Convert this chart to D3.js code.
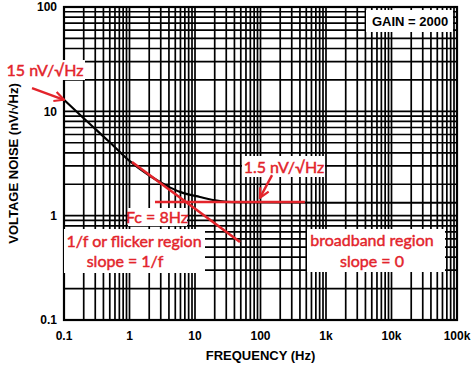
<!DOCTYPE html>
<html>
<head>
<meta charset="utf-8">
<script src="https://cdn.jsdelivr.net/npm/d3@7"></script>
<style>
  body { margin: 0; background: #fff; }
  svg { display: block; }
</style>
</head>
<body>
<div id="chart"></div>
<script>
// Noise curve (Hz, nV/√Hz)
const curveFreq  = [0.1, 0.175, 0.297, 0.504, 1.02, 2.06, 3.74, 5.9, 11.9, 24.1, 36.7, 100, 1000, 10000, 100000];
const curveNoise = [12.9, 9.27, 6.82, 5.03, 3.31, 2.40, 1.93, 1.69, 1.51, 1.38, 1.35, 1.34, 1.33, 1.33, 1.33];

// red guide lines
const flickerFreq  = [1.09, 48.6];
const flickerNoise = [3.27, 0.56];
const whiteFreq  = [2.45, 477];
const whiteNoise = [1.35, 1.35];

const xTicks = [0.1, 1, 10, 100, 1000, 10000, 100000];
const xTickLabels = ["0.1", "1", "10", "100", "1k", "10k", "100k"];
const yTicks = [0.1, 1, 10, 100];
const yTickLabels = ["0.1", "1", "10", "100"];

const config = {
    width: 474,
    height: 365,
    margin: { top: 7, right: 17, bottom: 45, left: 64 },
    red: "#e3242b",
    redFont: "Lato, 'Liberation Sans', sans-serif",
    boldFont: "'Liberation Sans', Arial, sans-serif"
};

const innerW = config.width - config.margin.left - config.margin.right;
const innerH = config.height - config.margin.top - config.margin.bottom;

const x = d3.scaleLog().domain([0.1, 100000]).range([config.margin.left, config.margin.left + innerW]);
const y = d3.scaleLog().domain([0.1, 100]).range([config.margin.top + innerH, config.margin.top]);

const svg = d3.select("#chart").append("svg")
    .attr("width", config.width)
    .attr("height", config.height);

svg.append("rect").attr("width", config.width).attr("height", config.height).attr("fill", "#fff");

// log grid: 1..9 in every decade
const xGrid = [];
for (let d = -1; d < 5; d++) for (let k = 1; k <= 9; k++) xGrid.push(k * Math.pow(10, d));
const yGrid = [];
for (let d = -1; d < 2; d++) for (let k = 1; k <= 9; k++) yGrid.push(k * Math.pow(10, d));

const grid = svg.append("g").attr("stroke", "#000").attr("stroke-width", 1.7);
grid.selectAll(".gx").data(xGrid).enter().append("line")
    .attr("x1", d => x(d)).attr("x2", d => x(d))
    .attr("y1", y(0.1)).attr("y2", y(100));
grid.selectAll(".gy").data(yGrid).enter().append("line")
    .attr("y1", d => y(d)).attr("y2", d => y(d))
    .attr("x1", x(0.1)).attr("x2", x(100000));

svg.append("rect")
    .attr("x", x(0.1)).attr("y", y(100))
    .attr("width", innerW).attr("height", innerH)
    .attr("fill", "none").attr("stroke", "#000").attr("stroke-width", 2.2);

// tick labels
svg.selectAll(".xt").data(xTicks).enter().append("text")
    .attr("x", d => x(d)).attr("y", y(0.1) + 20)
    .attr("text-anchor", "middle")
    .style("font", `bold 12px ${config.boldFont}`)
    .text((d, i) => xTickLabels[i]);

svg.selectAll(".yt").data(yTicks).enter().append("text")
    .attr("x", x(0.1) - 7).attr("y", d => y(d)).attr("dy", "0.36em")
    .attr("text-anchor", "end")
    .style("font", `bold 12px ${config.boldFont}`)
    .text((d, i) => yTickLabels[i]);

svg.append("text")
    .attr("x", (x(0.1) + x(100000)) / 2).attr("y", 360)
    .attr("text-anchor", "middle")
    .style("font", `bold 13px ${config.boldFont}`)
    .text("FREQUENCY (Hz)");

svg.append("text")
    .attr("transform", `translate(18,${(y(0.1) + y(100)) / 2}) rotate(-90)`)
    .attr("text-anchor", "middle")
    .style("font", `bold 13px ${config.boldFont}`)
    .text("VOLTAGE NOISE (nV/\u221AHz)");

// curve
const line = d3.line().x(d => x(d[0])).y(d => y(d[1])).curve(d3.curveMonotoneX);
svg.append("path")
    .datum(d3.zip(curveFreq, curveNoise))
    .attr("d", line)
    .attr("fill", "none").attr("stroke", "#000").attr("stroke-width", 2.2);

// red guides
const straight = d3.line().x(d => x(d[0])).y(d => y(d[1]));
[[flickerFreq, flickerNoise], [whiteFreq, whiteNoise]].forEach(([f, v]) => {
    svg.append("path")
        .datum(d3.zip(f, v))
        .attr("d", straight)
        .attr("fill", "none").attr("stroke", config.red).attr("stroke-width", 2.6);
});

// annotation boxes (pixel placed)
const boxes = [
    { x: 5, y: 60, w: 80, h: 20 },
    { x: 366, y: 10, w: 87, h: 22 },
    { x: 242, y: 156, w: 83, h: 21 },
    { x: 128, y: 208, w: 59, h: 18 },
    { x: 64, y: 229, w: 141, h: 44 },
    { x: 307, y: 229, w: 138, h: 43 }
];
svg.selectAll(".box").data(boxes).enter().append("rect")
    .attr("x", d => d.x).attr("y", d => d.y)
    .attr("width", d => d.w).attr("height", d => d.h)
    .attr("fill", "#fff");

const redTexts = [
    { x: 45, y: 70, t: "15 nV/\u221AHz" },
    { x: 284, y: 167, t: "1.5 nV/\u221AHz" },
    { x: 157, y: 217, t: "Fc = 8Hz" },
    { x: 134, y: 241, t: "1/f or flicker region" },
    { x: 125, y: 261, t: "slope = 1/f" },
    { x: 372, y: 240, t: "broadband region" },
    { x: 372, y: 261, t: "slope = 0" }
];
svg.selectAll(".rt").data(redTexts).enter().append("text")
    .attr("x", d => d.x).attr("y", d => d.y).attr("dy", "0.35em")
    .attr("text-anchor", "middle")
    .attr("fill", config.red)
    .attr("stroke", config.red).attr("stroke-width", 0.45)
    .style("font", `16px ${config.redFont}`)
    .text(d => d.t);

svg.append("text")
    .attr("x", 410).attr("y", 21).attr("dy", "0.36em")
    .attr("text-anchor", "middle")
    .style("font", `bold 13px ${config.boldFont}`)
    .text("GAIN = 2000");

// arrows (data coordinates)
svg.append("defs").append("marker")
    .attr("id", "arrow").attr("viewBox", "0 0 10 10")
    .attr("refX", 9).attr("refY", 5)
    .attr("markerWidth", 5).attr("markerHeight", 5)
    .attr("orient", "auto")
    .append("path").attr("d", "M1,1 L9,5 L1,9").attr("fill", "none")
    .attr("stroke", config.red).attr("stroke-width", 1.8);

const arrows = [
    { f0: 0.0325, v0: 16.7, f1: 0.1, v1: 12.9 },
    { f0: 150, v0: 2.45, f1: 98, v1: 1.48 }
];
svg.selectAll(".arr").data(arrows).enter().append("line")
    .attr("x1", d => x(d.f0)).attr("y1", d => y(d.v0))
    .attr("x2", d => x(d.f1)).attr("y2", d => y(d.v1))
    .attr("stroke", config.red).attr("stroke-width", 2.4)
    .attr("marker-end", "url(#arrow)");
</script>
</body>
</html>
